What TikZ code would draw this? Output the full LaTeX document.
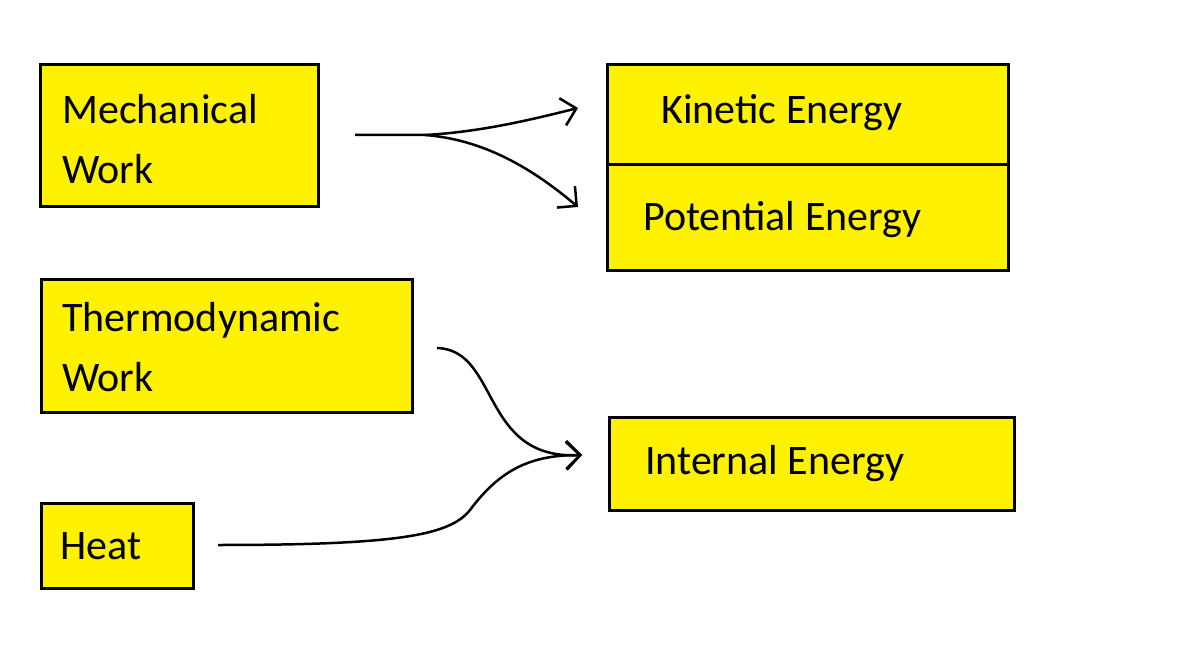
\documentclass[tikz,border=0pt]{standalone}
\usepackage{fontspec}
\setmainfont{Carlito}
\usetikzlibrary{arrows.meta}
\definecolor{yel}{HTML}{FFF200}
\begin{document}
\begin{tikzpicture}[x=1pt,y=-1pt,
 box/.style={draw=black,line width=3pt,fill=yel,inner sep=0pt},
 txt/.style={anchor=west,font=\fontsize{42}{60}\selectfont,align=left,inner sep=0pt},
 arr/.style={line width=2.5pt,-{Straight Barb[length=14pt,width=28pt,line width=2.5pt]}}]
\useasboundingbox (0,0) rectangle (1200,655);
\newcommand{\bx}[5]{\node[box,minimum width={#4-#2},minimum height={#5-#3}] (#1) at ({(#2+#4)/2},{(#3+#5)/2}) {};}
\bx{mw}{40}{65}{318}{207}
\bx{ke}{607}{65}{1008}{165}
\bx{pe}{607}{165}{1008}{271}
\bx{tw}{41}{280}{412}{412}
\bx{ht}{41}{503}{193}{588}
\bx{ie}{609}{417}{1014}{510}
\node[txt] (tmw) at (62,139) {Mechanical\\Work};
\node[txt] (tke) at (661,113) {Kinetic Energy};
\node[txt] (tpe) at (643,220) {Potential Energy};
\node[txt] (ttw) at (62,347) {Thermodynamic\\Work};
\node[txt] (tht) at (60,546) {Heat};
\node[txt] (tie) at (645,464) {Internal Energy};
\coordinate (a0) at (355,135);
\coordinate (a1) at (425,135);
\coordinate (k) at (578,108);
\coordinate (p) at (578,207);
\coordinate (t0) at (437,348);
\coordinate (h0) at (218,545);
\coordinate (i) at (582,455);
\draw[arr] (a0) -- (a1) .. controls (480,132) and (530,120) .. (k);
\draw[arr] (a1) .. controls (490,140) and (540,175) .. (p);
\draw[arr] (t0) .. controls (500,350) and (480,460) .. (i);
\draw[arr] (h0) .. controls (400,545) and (450,535) .. (470,510) .. controls (500,470) and (530,455) .. (i);
\end{tikzpicture}
\end{document}
